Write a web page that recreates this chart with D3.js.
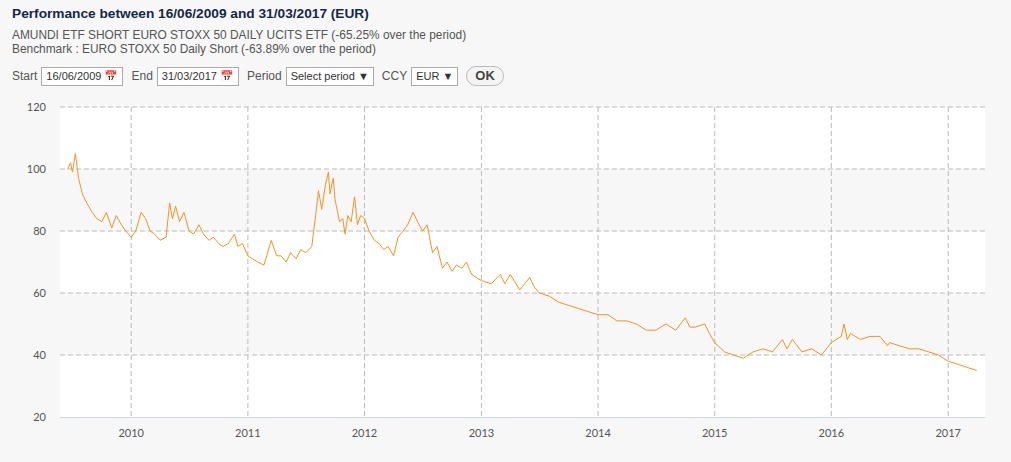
<!DOCTYPE html>
<html><head><meta charset="utf-8">
<script src="https://cdn.jsdelivr.net/npm/d3@7"></script>
<style>
body{margin:0;background:#f7f7f7;font-family:Arial,"Liberation Sans",sans-serif;width:1011px;height:462px;overflow:hidden}
.title{position:absolute;left:12px;top:6px;font-weight:bold;font-size:13.7px;color:#14284b}
.sub{position:absolute;left:12px;font-size:11.9px;color:#555}
.ctl{position:absolute;top:66px;left:12px;font-size:12px;color:#555;display:flex;align-items:center}
.box{border:1px solid #aaa;background:#fff;height:17px;line-height:17px;font-size:11px;padding:0 4px;margin:0 8px 0 4px;color:#333}
.ok{border:1px solid #bbb;border-radius:10px;background:#f4f4f4;font-weight:bold;font-size:13px;padding:0 8px;height:18px;line-height:18px;color:#444}
</style></head><body>
<div class="title">Performance between 16/06/2009 and 31/03/2017 (EUR)</div>
<div class="sub" style="top:28px">AMUNDI ETF SHORT EURO STOXX 50 DAILY UCITS ETF (-65.25% over the period)</div>
<div class="sub" style="top:42px">Benchmark : EURO STOXX 50 Daily Short (-63.89% over the period)</div>
<div class="ctl">Start<span class="box">16/06/2009 &#128197;</span>End<span class="box">31/03/2017 &#128197;</span>Period<span class="box">Select period &#9660;</span>CCY<span class="box">EUR &#9660;</span><span class="ok">OK</span></div>
<svg id="c" width="1011" height="462" style="position:absolute;left:0;top:0"></svg>
<script>
var dates = ["2009-06-16","2009-06-25","2009-07-01","2009-07-10","2009-07-20","2009-08-01","2009-08-15","2009-09-01","2009-09-15","2009-10-01","2009-10-15","2009-11-01","2009-11-15","2009-12-01","2009-12-15",
"2010-01-01","2010-01-15","2010-02-01","2010-02-15","2010-03-01","2010-03-15","2010-04-01","2010-04-20","2010-05-01","2010-05-10","2010-05-20","2010-06-01","2010-06-15","2010-07-01","2010-07-15","2010-08-01","2010-08-15","2010-09-01","2010-09-15","2010-10-01","2010-10-15","2010-11-01","2010-11-20","2010-12-01","2010-12-15",
"2011-01-01","2011-01-15","2011-02-01","2011-02-20","2011-03-01","2011-03-15","2011-04-01","2011-04-15","2011-05-01","2011-05-15","2011-06-01","2011-06-15","2011-07-01","2011-07-20","2011-08-01","2011-08-10","2011-08-20","2011-09-01","2011-09-10","2011-09-15","2011-09-25","2011-10-01","2011-10-15","2011-10-25","2011-11-01","2011-11-10","2011-11-20","2011-12-01","2011-12-10","2011-12-20",
"2012-01-01","2012-01-15","2012-02-01","2012-02-15","2012-03-01","2012-03-15","2012-04-01","2012-04-15","2012-05-01","2012-05-15","2012-06-01","2012-06-15","2012-07-01","2012-07-15","2012-08-01","2012-08-15","2012-09-01","2012-09-15","2012-10-01","2012-10-15","2012-11-01","2012-11-15","2012-12-01","2012-12-15",
"2013-01-01","2013-02-01","2013-03-01","2013-03-15","2013-04-01","2013-05-01","2013-06-01","2013-06-15","2013-07-01","2013-08-01","2013-09-01","2013-10-01","2013-11-01","2013-12-01",
"2014-01-01","2014-02-01","2014-03-01","2014-04-01","2014-05-01","2014-06-01","2014-07-01","2014-08-01","2014-09-01","2014-10-01","2014-10-15","2014-11-01","2014-12-01","2014-12-15",
"2015-01-01","2015-02-01","2015-03-01","2015-04-01","2015-05-01","2015-06-01","2015-07-01","2015-08-01","2015-08-15","2015-09-01","2015-10-01","2015-11-01","2015-12-01",
"2016-01-01","2016-02-01","2016-02-10","2016-02-20","2016-03-01","2016-04-01","2016-05-01","2016-06-01","2016-06-25","2016-07-01","2016-08-01","2016-09-01","2016-10-01","2016-11-01","2016-12-01",
"2017-01-01","2017-02-01","2017-03-01","2017-03-31"];
var values = [100,102,99,105,97,92,89,86,84,83,86,81,85,82,80,
78,80,86,84,80,79,77,78,89,84,88,83,86,80,79,82,79,77,78,76,75,76,79,75,76,
72,71,70,69,72,77,72,72,70,73,71,74,73,75,85,93,87,95,99,92,97,90,83,84,79,85,83,91,82,85,
84,80,77,76,74,75,72,78,80,82,86,83,80,82,73,75,68,70,67,69,68,70,66,65,
64,63,66,63,66,61,65,62,60,59,57,56,55,54,
53,53,51,51,50,48,48,50,48,52,49,49,50,47,
44,41,40,39,41,42,41,45,42,45,41,42,40,
44,46,50,45,47,45,46,46,43,44,43,42,42,41,40,
38,37,36,35];
var yTicks = [20,40,60,80,100,120];
var xTicks = [2010,2011,2012,2013,2014,2015,2016,2017];

var parse = d3.timeParse("%Y-%m-%d");
var data = dates.map(function(d,i){ return {d:parse(d), v:values[i]}; });
var svg = d3.select("#c");
var L=60, R=985, T=107, B=417;
var x = d3.scaleTime().domain([parse("2009-05-23"), parse("2017-04-26")]).range([L,R]);
var y = d3.scaleLinear().domain([20,120]).range([B,T]);

svg.append("rect").attr("x",L).attr("y",T).attr("width",R-L).attr("height",B-T).attr("fill","#fff");
[[80,100],[40,60]].forEach(function(b){
  svg.append("rect").attr("x",L).attr("width",R-L).attr("y",y(b[1])).attr("height",y(b[0])-y(b[1])).attr("fill","#f7f7f7");
});
var g = svg.append("g").attr("stroke","#bbb").attr("stroke-dasharray","5,3");
yTicks.slice(1).forEach(function(t){ g.append("line").attr("x1",L).attr("x2",R).attr("y1",y(t)).attr("y2",y(t)); });
xTicks.forEach(function(t){ var px=x(new Date(t,0,1)); g.append("line").attr("x1",px).attr("x2",px).attr("y1",T).attr("y2",B); });
svg.append("line").attr("x1",L).attr("x2",R).attr("y1",B+0.5).attr("y2",B+0.5).attr("stroke","#ccd6eb");

svg.selectAll(".yl").data(yTicks).enter().append("text").attr("x",46).attr("y",function(d){return y(d)+4;})
  .attr("text-anchor","end").attr("font-size",11).attr("fill","#555").attr("font-family","Lato,sans-serif").text(function(d){return d;});
svg.selectAll(".xl").data(xTicks).enter().append("text").attr("x",function(d){return x(new Date(d,0,1));}).attr("y",437)
  .attr("text-anchor","middle").attr("font-size",11).attr("fill","#555").attr("font-family","Lato,sans-serif").text(function(d){return d;});

svg.append("path").datum(data).attr("fill","none").attr("stroke","#f39323").attr("stroke-width",1)
  .attr("d", d3.line().x(function(d){return x(d.d);}).y(function(d){return y(d.v);}));
</script>
</body></html>
